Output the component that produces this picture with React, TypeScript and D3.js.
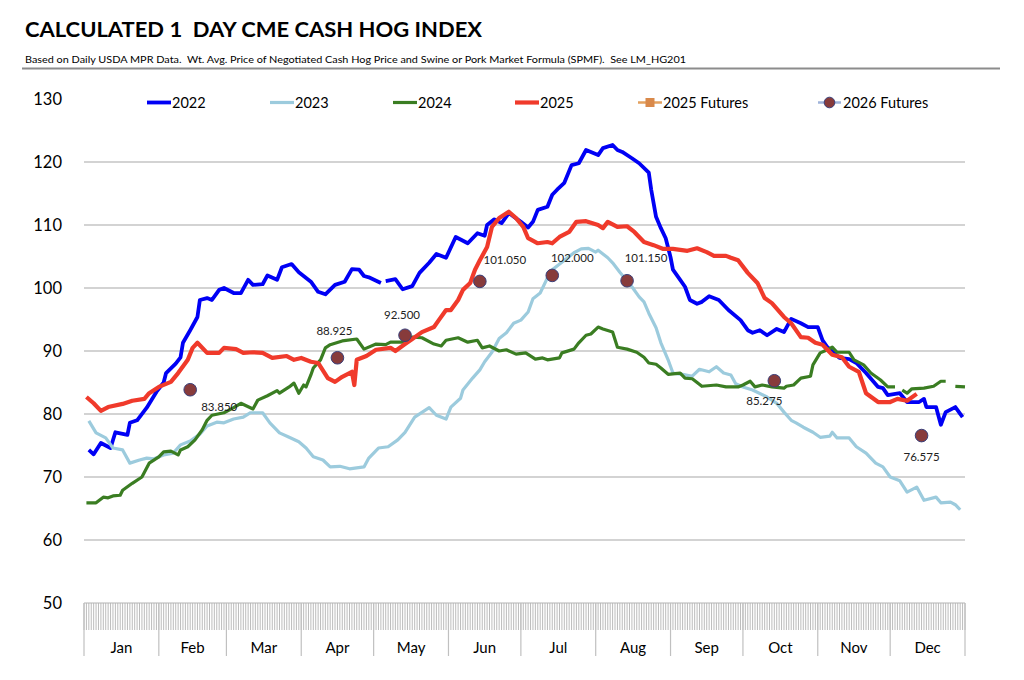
import React from "react";
import * as d3 from "d3";

// [day of year, index value]; null marks a missing day
type Pt = [number, number | null];

const MONTHS = ["Jan", "Feb", "Mar", "Apr", "May", "Jun", "Jul", "Aug", "Sep", "Oct", "Nov", "Dec"];
const MONTH_START_DAYS = [0, 31, 59, 90, 120, 151, 181, 212, 243, 273, 304, 334, 365];
const Y_TICKS = [50, 60, 70, 80, 90, 100, 110, 120, 130];
const GRID_VALUES = [60, 70, 80, 90, 100, 110, 120];

const HOG_2022: Pt[] = [
  [2, 74.3], [4, 73.6], [7, 75.4], [11, 74.6], [13, 77.1], [18, 76.7], [19, 78.6], [22, 79],
  [26, 81], [30, 83.5], [33, 85], [34, 86.5], [38, 88], [40, 89], [41, 91.3], [44, 93.3],
  [47, 95.4], [48, 98.1], [51, 98.4], [53, 98.1], [56, 99.7], [58, 100], [62, 99.2], [65, 99.2],
  [68, 101.3], [70, 100.5], [74, 100.6], [76, 102], [80, 101.3], [82, 103.3], [86, 103.8],
  [89, 102.5], [94, 101], [97, 99.4], [100, 99], [104, 100.5], [108, 101], [111, 103],
  [114, 102.9], [116, 101.9], [118, 101.7], [123, 100.8], [124, null], [125, 101.1],
  [129, 101.4], [132, 99.8], [136, 100.3], [139, 102.4], [143, 104], [146, 105.4], [150, 104.8],
  [154, 108.1], [159, 107.1], [163, 108.7], [166, 108.3], [167, 110], [170, 110.9], [173, 110.3],
  [176, 111.9], [181, 110.5], [184, 109.6], [186, 110.5], [188, 112.4], [192, 112.9],
  [194, 114.8], [196, 115.6], [199, 116.7], [202, 119.5], [205, 119.8], [208, 121.9],
  [213, 121.1], [215, 122.2], [219, 122.7], [221, 121.9], [223, 121.6], [227, 120.6],
  [230, 119.8], [234, 118.3], [235, 115.6], [237, 111.3], [239, 109.5], [241, 107.9],
  [243, 104.9], [244, 102.9], [247, 101.3], [249, 100.2], [251, 98.1], [254, 97.5], [256, 97.8],
  [259, 98.7], [263, 98.1], [267, 96.5], [272, 94.9], [275, 93.3], [277, 92.9], [280, 93.3],
  [283, 92.5], [287, 93.5], [290, 93], [293, 95.1], [297, 94.4], [300, 93.8], [304, 93.8],
  [306, 91.7], [308, 90.6], [313, 88.9], [317, 88.7], [320, 88.1], [324, 86.5], [329, 84.3],
  [331, 84.1], [333, 83], [338, 83.3], [341, 81.9], [346, 81.9], [348, 82.4], [349, 81.1],
  [353, 81.1], [355, 78.3], [357, 80.3], [361, 81.1], [364, 79.5],
];

const HOG_2023: Pt[] = [
  [2, 78.9], [5, 77], [9, 76.2], [12, 74.6], [16, 74.3], [19, 72.2], [23, 72.7], [26, 73],
  [29, 72.9], [33, 73.5], [37, 73.8], [40, 75.1], [44, 75.7], [48, 76.8], [51, 78.1], [55, 78.7],
  [58, 78.6], [62, 79.2], [66, 79.5], [69, 80.2], [74, 80.2], [77, 78.6], [81, 77], [85, 76.3],
  [89, 75.6], [92, 74.6], [95, 73.2], [99, 72.7], [102, 71.6], [106, 71.7], [110, 71.3],
  [116, 71.6], [118, 73], [122, 74.6], [126, 74.8], [130, 75.9], [133, 77.1], [137, 79.5],
  [143, 81], [146, 79.8], [150, 79.2], [152, 81.1], [156, 82.5], [157, 83.8], [161, 85.7],
  [164, 87], [166, 88.3], [169, 89.8], [172, 92], [175, 92.9], [178, 94.4], [181, 94.9],
  [184, 96.2], [186, 98.3], [189, 99.2], [192, 101.6], [194, 102.9], [198, 104.1], [203, 105.6],
  [206, 106.2], [209, 106.3], [212, 105.7], [213, 106], [217, 104.8], [219, 104], [222, 102.5],
  [227, 100.2], [230, 98.6], [232, 97.8], [234, 96], [237, 93.7], [239, 91.3], [242, 88.6],
  [244, 86.5], [248, 86.3], [252, 86], [255, 87.1], [259, 86.7], [262, 87.5], [265, 86.5],
  [268, 86.2], [270, 84.8], [273, 84.3], [277, 83.8], [283, 82.7], [287, 81.7], [290, 80.3],
  [293, 79], [295, 78.6], [298, 77.9], [302, 77.1], [305, 76.3], [309, 76.5], [310, 77.1],
  [312, 76.2], [317, 76.2], [320, 74.8], [324, 73.8], [328, 72.2], [331, 71.6], [334, 70],
  [338, 69.4], [341, 67.6], [345, 68.4], [348, 66.3], [353, 66.8], [355, 65.9], [359, 66],
  [361, 65.6], [363, 64.8],
];

const HOG_2024: Pt[] = [
  [1, 65.9], [5, 65.9], [8, 66.8], [10, 66.7], [12, 67], [15, 67.1], [16, 67.9], [20, 69],
  [24, 70], [27, 72.2], [31, 73.2], [33, 74], [36, 74.1], [39, 73.5], [40, 74.3], [43, 74.8],
  [46, 75.9], [49, 77.5], [51, 79], [53, 79.8], [58, 80.2], [62, 81], [65, 81.7], [70, 80.8],
  [72, 82.2], [76, 82.9], [80, 83.7], [81, 83.3], [85, 84.3], [87, 84.9], [89, 83.3], [91, 84.6],
  [92, 84.3], [94, 86.2], [95, 87.3], [98, 88.6], [100, 90.5], [102, 91], [107, 91.6],
  [113, 91.9], [116, 90.3], [121, 91.1], [125, 91], [127, 91.4], [132, 91.4], [136, 92.2],
  [140, 92.1], [145, 91.1], [148, 90.8], [150, 91.7], [155, 92.1], [159, 91.4], [163, 91.7],
  [165, 90.5], [168, 90.8], [172, 90], [175, 90.2], [179, 89.5], [183, 89.7], [187, 88.7],
  [190, 88.9], [192, 88.6], [197, 88.9], [198, 89.7], [203, 90.3], [205, 91.3], [208, 92.5],
  [210, 92.7], [213, 93.8], [215, 93.5], [219, 93], [221, 90.6], [225, 90.3], [229, 89.8],
  [232, 89], [234, 88.1], [237, 87.9], [239, 87.3], [242, 86.3], [247, 86.5], [249, 85.7],
  [252, 85.6], [256, 84.4], [262, 84.6], [266, 84.3], [271, 84.3], [273, 84.6], [276, 85.2],
  [278, 84.3], [281, 84.6], [285, 84.3], [290, 84.1], [291, 84.4], [294, 84.6], [297, 85.7],
  [301, 86], [302, 87.8], [305, 89.7], [308, 90.2], [310, 90.6], [312, 89.8], [317, 89.8],
  [319, 88.6], [323, 87.8], [326, 86.5], [330, 85.4], [333, 84.3], [336, 84.3], [337, null],
  [339, 83.8], [341, 83.3], [343, 84], [348, 84.1], [352, 84.4], [355, 85.2], [357, 85.2],
  [359, null], [361, 84.4], [365, 84.3],
];

const HOG_2025: Pt[] = [
  [1, 82.7], [4, 81.7], [7, 80.5], [10, 81.1], [16, 81.6], [20, 82.1], [25, 82.4], [27, 83.3],
  [31, 84.3], [36, 85.1], [39, 86.5], [43, 88.6], [45, 90.5], [47, 91.3], [51, 89.7], [56, 89.7],
  [58, 90.5], [63, 90.3], [66, 89.7], [70, 89.8], [74, 89.7], [78, 88.9], [84, 89.2], [87, 88.6],
  [90, 88.9], [94, 88.3], [97, 88.1], [101, 85.7], [104, 85.1], [107, 85.9], [111, 86.7],
  [112, 84.6], [113, 88.6], [117, 89.2], [121, 90.2], [127, 90.5], [129, 90], [133, 91.1],
  [136, 91.9], [140, 93], [145, 93.8], [147, 94.9], [150, 96.5], [152, 96.5], [155, 98.1],
  [157, 99.7], [160, 100.8], [162, 102.9], [164, 104.4], [167, 106.5], [169, 109.7],
  [172, 111.1], [176, 112.1], [179, 111.1], [182, 109.7], [184, 107.9], [188, 107.1],
  [192, 107.3], [194, 107.1], [197, 108.1], [201, 108.9], [204, 110.5], [208, 110.6], [213, 110],
  [215, 109.5], [217, 110.5], [221, 109.7], [225, 109.8], [228, 108.9], [232, 107.3],
  [236, 106.8], [240, 106.2], [244, 106.2], [250, 105.9], [254, 106.3], [258, 105.7],
  [261, 105.1], [266, 105.1], [268, 104.8], [271, 104.4], [275, 102.4], [279, 100.8],
  [282, 98.4], [285, 97.6], [290, 95.4], [293, 94.4], [297, 92.2], [300, 92.1], [303, 91.3],
  [306, 91], [310, 89.4], [314, 89], [317, 87.5], [321, 86.7], [324, 83.3], [329, 81.9],
  [334, 81.9], [337, 82.4], [341, 82.1], [345, 83.2],
];

// 2026 lean hog futures, plotted mid contract month
const FUTURES_2026_DAYS = [44, 105, 133, 164, 194, 225, 286, 347];
const FUTURES_2026_VALUES = [83.85, 88.925, 92.5, 101.05, 102.0, 101.15, 85.275, 76.575];
const FUTURES_LABEL_OFFSETS: [number, number][] = [
  [29, 17], [-3, -27], [-3, -21], [25, -22], [20, -18], [19, -23], [-10, 20], [0, 21],
];

const SERIES = [
  { name: "2022", data: HOG_2022, color: "#0000F5", width: 3.8 },
  { name: "2023", data: HOG_2023, color: "#9CCBDD", width: 3.2 },
  { name: "2024", data: HOG_2024, color: "#3A7D22", width: 3.2 },
  { name: "2025", data: HOG_2025, color: "#F03A2B", width: 4.2 },
];

const WIDTH = 1024;
const HEIGHT = 680;
const PLOT = { left: 84, right: 965, top: 99, bottom: 603 };
const FONT = "Lato, 'Open Sans', sans-serif";
const NBSP = "\u00A0";

export default function App() {
  const x = d3.scaleLinear().domain([0, 365]).range([PLOT.left, PLOT.right]);
  const y = d3.scaleLinear().domain([50, 130]).range([PLOT.bottom, PLOT.top]);

  const line = d3
    .line<Pt>()
    .defined((d) => d[1] !== null)
    .x((d) => x(d[0]))
    .y((d) => y(d[1] as number));

  const dayTicks = d3.range(0, 366);
  const legendY = 102.5;

  return (
    <svg
      width={WIDTH}
      height={HEIGHT}
      style={{ position: "absolute", left: 0, top: 0, background: "#fff" }}
      fontFamily={FONT}
    >
      <text x={25} y={37} fontSize={21} fontWeight={700} textLength={457} lengthAdjust="spacingAndGlyphs">
        {`CALCULATED 1 ${NBSP}DAY CME CASH HOG INDEX`}
      </text>
      <text x={25} y={63} fontSize={10} textLength={661} lengthAdjust="spacingAndGlyphs">
        {`Based on Daily USDA MPR Data. ${NBSP}Wt. Avg. Price of Negotiated Cash Hog Price and Swine or Pork Market Formula (SPMF). ${NBSP}See LM_HG201`}
      </text>
      <line x1={22} x2={1000} y1={68.5} y2={68.5} stroke="#8c8c8c" strokeWidth={2} />

      {/* gridlines */}
      {GRID_VALUES.map((v) => (
        <line key={v} x1={PLOT.left} x2={PLOT.right} y1={y(v)} y2={y(v)} stroke="#c4c4c4" strokeWidth={1.5} />
      ))}

      {/* y tick labels */}
      {Y_TICKS.map((v) => (
        <text key={v} x={62} y={y(v)} textAnchor="end" dominantBaseline="central" fontSize={16.5}>
          {v}
        </text>
      ))}

      {/* daily category ticks */}
      {dayTicks.map((d) => (
        <line key={d} x1={x(d)} x2={x(d)} y1={PLOT.bottom} y2={PLOT.bottom + 27} stroke="#b4b4b4" strokeWidth={0.9} />
      ))}
      <line x1={PLOT.left} x2={PLOT.right} y1={PLOT.bottom} y2={PLOT.bottom} stroke="#b4b4b4" strokeWidth={1.2} />

      {/* month separators and labels */}
      {MONTH_START_DAYS.map((d) => (
        <line key={d} x1={x(d)} x2={x(d)} y1={PLOT.bottom} y2={656} stroke="#c0c0c0" strokeWidth={1.2} />
      ))}
      {MONTHS.map((m, i) => (
        <text
          key={m}
          x={(x(MONTH_START_DAYS[i]) + x(MONTH_START_DAYS[i + 1])) / 2}
          y={647}
          textAnchor="middle"
          dominantBaseline="central"
          fontSize={15}
        >
          {m}
        </text>
      ))}

      {/* yearly index lines */}
      {SERIES.map((s) => (
        <path
          key={s.name}
          d={line(s.data) ?? ""}
          fill="none"
          stroke={s.color}
          strokeWidth={s.width}
          strokeLinejoin="round"
        />
      ))}

      {/* futures points */}
      {FUTURES_2026_DAYS.map((d, i) => {
        const cx = x(d);
        const cy = y(FUTURES_2026_VALUES[i]);
        const [dx, dy] = FUTURES_LABEL_OFFSETS[i];
        return (
          <g key={d}>
            <circle cx={cx} cy={cy} r={6.3} fill="#873B3B" stroke="#3A3F7A" strokeWidth={1} />
            <text x={cx + dx} y={cy + dy} textAnchor="middle" dominantBaseline="central" fontSize={11.5} fill="#222">
              {d3.format(".3f")(FUTURES_2026_VALUES[i])}
            </text>
          </g>
        );
      })}

      {/* legend */}
      {SERIES.map((s, i) => {
        const lx = [147, 270, 393, 515][i];
        return (
          <g key={s.name}>
            <line x1={lx} x2={lx + 24} y1={legendY} y2={legendY} stroke={s.color} strokeWidth={s.width} />
            <text x={lx + 25} y={legendY} dominantBaseline="central" fontSize={14.5}>
              {s.name}
            </text>
          </g>
        );
      })}
      <g>
        <line x1={638} x2={662} y1={legendY} y2={legendY} stroke="#E3A15E" strokeWidth={2.5} />
        <rect x={645.5} y={legendY - 4.5} width={9} height={9} fill="#D9894A" />
        <text x={663} y={legendY} dominantBaseline="central" fontSize={14.5}>
          2025 Futures
        </text>
      </g>
      <g>
        <line x1={818} x2={841} y1={legendY} y2={legendY} stroke="#9FB3DA" strokeWidth={2.5} />
        <circle cx={829.5} cy={legendY} r={5.3} fill="#873B3B" stroke="#3A3F7A" strokeWidth={1} />
        <text x={843} y={legendY} dominantBaseline="central" fontSize={14.5}>
          2026 Futures
        </text>
      </g>
    </svg>
  );
}
